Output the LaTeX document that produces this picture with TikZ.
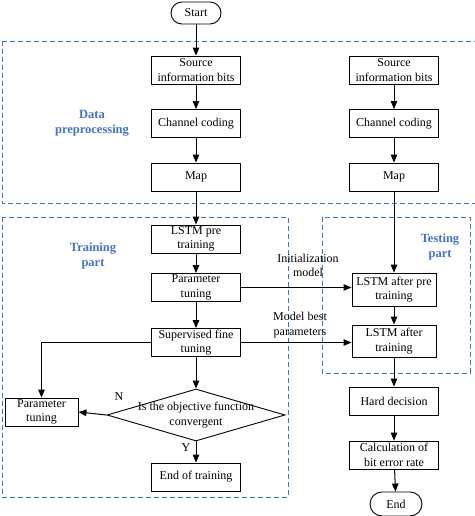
\documentclass[tikz,border=0pt]{standalone}
\usepackage{fontspec}
\setmainfont{Liberation Serif}
\usetikzlibrary{shapes.geometric,arrows.meta}
\definecolor{dblue}{HTML}{4472C4}
\begin{document}
\begin{tikzpicture}[x=1pt,y=-1pt,
  txt/.style={font=\fontsize{12}{14.5}\selectfont,align=center,inner sep=0pt},
  box/.style={txt,draw,line width=0.9pt,minimum width=89pt,minimum height=28pt},
  term/.style={txt,draw,line width=0.9pt,rounded corners=11pt,minimum width=50pt,minimum height=22pt},
  grp/.style={draw=dblue,line width=0.9pt,dash pattern=on 5pt off 3pt},
  grplabel/.style={font=\fontsize{12.5}{15}\selectfont\bfseries,text=dblue,align=center,inner sep=0pt},
  arr/.style={line width=1pt,-{Triangle[length=8pt,width=6.5pt]}},
  ln/.style={line width=1pt}]
\useasboundingbox (0,0) rectangle (474,516);
% group frames
\draw[grp] (2,41) -- (480,41) (2,41) -- (2,203) -- (480,203);
\draw[grp] (2,217) rectangle (288,497);
\draw[grp] (322,217) rectangle (470,373);
\node[grplabel] (lData) at (92,123) {Data\\preprocessing};
\node[grplabel] (lTrain) at (93,256) {Training\\part};
\node[grplabel] (lTest) at (440,247) {Testing\\part};
% left column
\node[term] (start) at (196,13) {Start};
\node[box] (src1) at (196,70) {Source\\information bits};
\node[box] (cc1) at (196,123.5) {Channel coding};
\node[box] (map1) at (196,177) {Map};
\node[box] (pre) at (196,239) {LSTM pre\\training};
\node[box] (pt1) at (196,287.5) {Parameter\\tuning};
\node[box] (sft) at (196,342.5) {Supervised fine\\tuning};
\node[draw,line width=0.9pt,diamond,minimum width=178pt,minimum height=52pt,inner sep=0pt] (dia) at (196,415) {};
\node[txt] (diatxt) at (dia.center) {Is the objective function\\convergent};
\node[box,minimum width=73pt] (ptl) at (41.5,412) {Parameter\\tuning};
\node[box] (eot) at (196,477) {End of training};
% right column
\node[box] (src2) at (394,70) {Source\\information bits};
\node[box] (cc2) at (394,123.5) {Channel coding};
\node[box] (map2) at (394,177) {Map};
\node[box,minimum width=84pt,minimum height=33pt] (lapt) at (394,289.5) {LSTM after pre\\training};
\node[box,minimum width=84pt,minimum height=32pt] (lat) at (394,341) {LSTM after\\training};
\node[box] (hd) at (394,401) {Hard decision};
\node[box] (cal) at (394,455) {Calculation of\\bit error rate};
\node[term,minimum width=52pt,minimum height=24pt,rounded corners=12pt] (end) at (396,504) {End};
% connectors
\draw[arr] (start) -- (src1);
\draw[arr] (src1) -- (cc1);
\draw[arr] (cc1) -- (map1);
\draw[arr] (map1) -- (pre);
\draw[arr] (pre) -- (pt1);
\draw[arr] (pt1) -- (sft);
\draw[arr] (sft) -- (dia.north);
\draw[arr] (dia.south) -- (eot);
\draw[arr] (dia.west) -- (ptl.east);
\draw[arr] (sft.west) -| (ptl.north);
\node[txt] (nN) at (119,397) {N};
\node[txt] (nY) at (186,448) {Y};
\draw[arr] (src2) -- (cc2);
\draw[arr] (cc2) -- (map2);
\draw[arr] (map2) -- (lapt);
\draw[arr] (lapt) -- (lat);
\draw[arr] (lat) -- (hd);
\draw[arr] (hd) -- (cal);
\draw[arr] (cal) -- (end);
\draw[arr] (pt1.east) -- (pt1.east -| lapt.west);
\draw[arr] (sft.east) -- (sft.east -| lat.west);
\node[txt] (linit) at (308,265.5) {Initialization\\model};
\node[txt] (lbest) at (300,325) {Model best\\parameters};
\end{tikzpicture}
\end{document}
